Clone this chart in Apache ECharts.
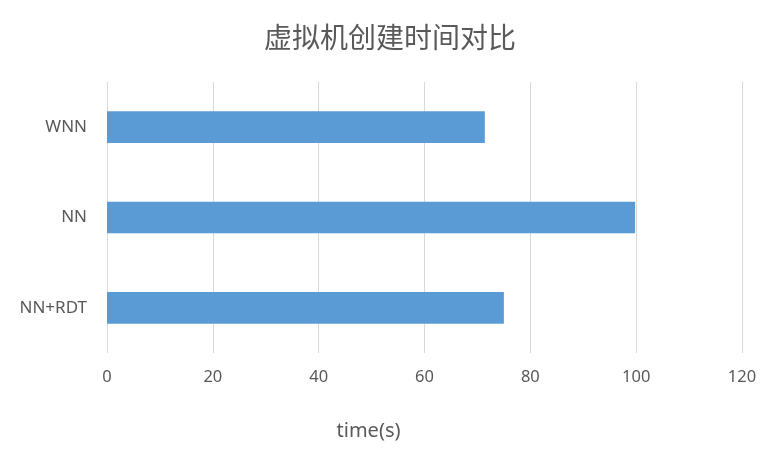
<!DOCTYPE html>
<html>
<head>
<meta charset="utf-8">
<script src="https://cdn.jsdelivr.net/npm/echarts@6/dist/echarts.min.js"></script>
<style>html,body{margin:0;padding:0;background:#fff;}#c{width:780px;height:458px;}</style>
</head>
<body>
<div id="c"></div>
<script>
var categories = ['WNN', 'NN', 'NN+RDT'];
var times = [71.4, 99.8, 75.0];
var xTicks = { min: 0, max: 120, interval: 20 };

var chart = echarts.init(document.getElementById('c'), null, { renderer: 'canvas' });
chart.setOption({
  backgroundColor: '#ffffff',
  animation: false,
  title: {
    text: '虚拟机创建时间对比',
    left: 'center',
    top: 18,
    textStyle: { fontFamily: 'Noto Sans CJK SC', fontSize: 28, fontWeight: 'normal', color: '#595959' }
  },
  grid: { left: 107, right: 38, top: 82, bottom: 105, containLabel: false },
  xAxis: {
    type: 'value',
    min: xTicks.min, max: xTicks.max, interval: xTicks.interval,
    name: 'time(s)',
    nameLocation: 'middle',
    nameGap: 68,
    nameTextStyle: { fontFamily: 'Noto Sans', fontSize: 20, color: '#595959', padding: [0, 112, 0, 0] },
    axisLine: { show: false },
    axisTick: { show: false },
    axisLabel: { fontFamily: 'Noto Sans', fontSize: 16.5, color: '#595959', margin: 16 },
    splitLine: { show: true, lineStyle: { color: '#d9d9d9', width: 1 } }
  },
  yAxis: {
    type: 'category',
    data: categories,
    inverse: true,
    axisLine: { show: false },
    axisTick: { show: false },
    axisLabel: { fontFamily: 'Noto Sans', fontSize: 17, color: '#595959', margin: 20 }
  },
  series: [{
    type: 'bar',
    data: times,
    barWidth: '35%',
    itemStyle: { color: '#5b9bd5' }
  }]
});
</script>
</body>
</html>
